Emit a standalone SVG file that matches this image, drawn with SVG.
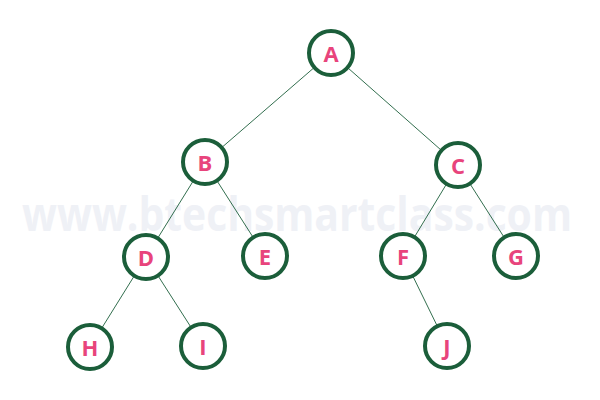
<svg xmlns="http://www.w3.org/2000/svg" width="600" height="400" viewBox="0 0 600 400">
<style>
.n circle{fill:#fff;stroke:#1b5e3a;stroke-width:4}
.n text{font-family:"Open Sans","DejaVu Sans",sans-serif;font-weight:bold;font-size:22px;fill:#e8447c;text-anchor:middle;dominant-baseline:central}
.e line{stroke:#1b5e3a;stroke-width:0.9}
.wm{font-family:"Open Sans","DejaVu Sans",sans-serif;font-weight:bold;font-size:46px;fill:#eff1f6}
</style>
<rect width="600" height="400" fill="#fff"/>
<text class="wm" x="297" y="231" text-anchor="middle" textLength="550" lengthAdjust="spacingAndGlyphs">www.btechsmartclass.com</text>
<g class="e">
<line x1="331" y1="53" x2="205" y2="162"/>
<line x1="331" y1="53" x2="458" y2="165"/>
<line x1="205" y1="162" x2="146" y2="257"/>
<line x1="205" y1="162" x2="265" y2="256"/>
<line x1="458" y1="165" x2="403" y2="256"/>
<line x1="458" y1="165" x2="516" y2="256"/>
<line x1="146" y1="257" x2="90" y2="347"/>
<line x1="146" y1="257" x2="203" y2="346"/>
<line x1="403" y1="256" x2="447" y2="346"/>
</g>
<g id="A" class="n"><circle cx="331" cy="53" r="22"/><text x="331" y="53">A</text></g>
<g id="B" class="n"><circle cx="205" cy="162" r="22"/><text x="205" y="162">B</text></g>
<g id="C" class="n"><circle cx="458" cy="165" r="22"/><text x="458" y="165">C</text></g>
<g id="D" class="n"><circle cx="146" cy="257" r="22"/><text x="146" y="257">D</text></g>
<g id="E" class="n"><circle cx="265" cy="256" r="22"/><text x="265" y="256">E</text></g>
<g id="F" class="n"><circle cx="403" cy="256" r="22"/><text x="403" y="256">F</text></g>
<g id="G" class="n"><circle cx="516" cy="256" r="22"/><text x="516" y="256">G</text></g>
<g id="H" class="n"><circle cx="90" cy="347" r="22"/><text x="90" y="347">H</text></g>
<g id="I" class="n"><circle cx="203" cy="346" r="22"/><text x="203" y="346">I</text></g>
<g id="J" class="n"><circle cx="447" cy="346" r="22"/><text x="447" y="346">J</text></g>
</svg>
